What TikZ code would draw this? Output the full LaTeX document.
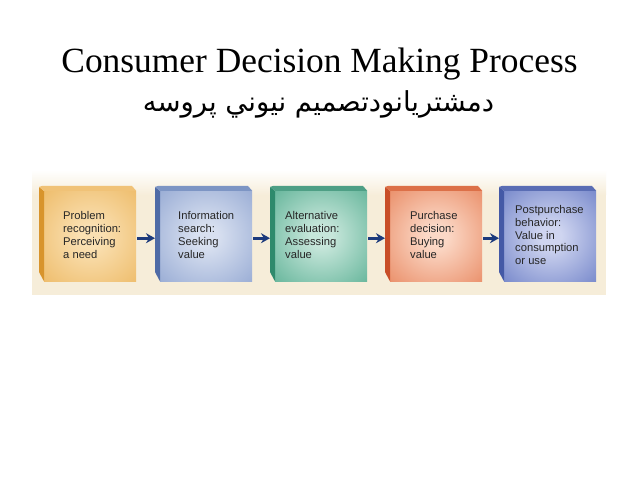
\documentclass[tikz,border=0pt]{standalone}
\usepackage{fontspec}
\setmainfont{Liberation Serif}
\newfontfamily\boxfont{Liberation Sans}
\newfontfamily\arabicfont[Script=Arabic]{DejaVu Sans}
\TeXXeTstate=1
\usetikzlibrary{arrows.meta}
\definecolor{band}{HTML}{F6EDD9}
\definecolor{navy}{HTML}{1C3A7C}
% box colours: inner, outer, side, top
\definecolor{oI}{HTML}{FAE0B2}\definecolor{oO}{HTML}{EBB45A}\definecolor{oS}{HTML}{D8942C}\definecolor{oT}{HTML}{F0C277}
\definecolor{bI}{HTML}{D8E0F0}\definecolor{bO}{HTML}{8AA0CE}\definecolor{bS}{HTML}{4F6BA6}\definecolor{bT}{HTML}{7D95C4}
\definecolor{gI}{HTML}{C6E6DA}\definecolor{gO}{HTML}{4FAA8C}\definecolor{gS}{HTML}{2E8A6C}\definecolor{gT}{HTML}{4E9F85}
\definecolor{rI}{HTML}{FBD8C6}\definecolor{rO}{HTML}{E67E54}\definecolor{rS}{HTML}{C84E28}\definecolor{rT}{HTML}{DC7048}
\definecolor{vI}{HTML}{CFD5F0}\definecolor{vO}{HTML}{6276C2}\definecolor{vS}{HTML}{4459A6}\definecolor{vT}{HTML}{5A6DB4}
\pgfdeclareradialshading{shO}{\pgfpointorigin}{color(0bp)=(oI); color(6bp)=(oI); color(44bp)=(oO); color(72bp)=(oO)}
\pgfdeclareradialshading{shB}{\pgfpointorigin}{color(0bp)=(bI); color(6bp)=(bI); color(44bp)=(bO); color(72bp)=(bO)}
\pgfdeclareradialshading{shG}{\pgfpointorigin}{color(0bp)=(gI); color(6bp)=(gI); color(44bp)=(gO); color(72bp)=(gO)}
\pgfdeclareradialshading{shR}{\pgfpointorigin}{color(0bp)=(rI); color(6bp)=(rI); color(44bp)=(rO); color(72bp)=(rO)}
\pgfdeclareradialshading{shV}{\pgfpointorigin}{color(0bp)=(vI); color(6bp)=(vI); color(44bp)=(vO); color(72bp)=(vO)}
\tikzset{
  front/.style={rectangle, minimum width=92pt, minimum height=90pt, inner sep=0pt, anchor=north west},
  boxtext/.style={anchor=west, align=left, inner sep=0pt, font=\boxfont\fontsize{11.2pt}{12.7pt}\selectfont, text=black!85},
  flow/.style={navy, line width=2.8pt, -{Stealth[length=9pt,width=10pt]}},
}
\newcommand{\mybox}[7]{% name, x, shading, side, top, textx, text
  \node[front, shade, shading=#3] (#1) at (#2+5,191) {};
  \fill[#4] (#1.north west) -- ++(-5,-4) -- ++(0,85) -- (#1.south west) -- cycle;
  \fill[#5] (#1.north west) -- ++(-5,-4) -- ++(3,-1) -- ++(90,0) -- (#1.north east) -- cycle;
  \node[boxtext] (t#1) at (#6,235) {#7};
}
\begin{document}
\begin{tikzpicture}[x=1pt,y=-1pt]
\useasboundingbox (0,0) rectangle (638,478);
\fill[white] (0,0) rectangle (638,478);
% band
\fill[band] (32,194) rectangle (606,295);
\shade[top color=white, bottom color=band] (32,170) rectangle (606,195);
% title
\node[font=\fontsize{35.4pt}{40pt}\selectfont, anchor=base] (title) at (319.5,73) {Consumer Decision Making Process};
\node[font=\arabicfont\fontsize{27.5pt}{32pt}\selectfont, anchor=base] (sub) at (318.5,112) {\beginR دمشتريانودتصميم نيوني پروسه\endR};
% boxes
\mybox{b1}{39}{shO}{oS}{oT}{63}{Problem\\recognition:\\Perceiving\\a need}
\mybox{b2}{155}{shB}{bS}{bT}{178}{Information\\search:\\Seeking\\value}
\mybox{b3}{270}{shG}{gS}{gT}{285}{Alternative\\evaluation:\\Assessing\\value}
\mybox{b4}{385}{shR}{rS}{rT}{410}{Purchase\\decision:\\Buying\\value}
\mybox{b5}{499}{shV}{vS}{vT}{515}{Postpurchase\\behavior:\\Value in\\consumption\\or use}
% arrows
\draw[flow] ([xshift=1pt,yshift=-2pt]b1.east) -- ([xshift=-5pt,yshift=-2pt]b2.west);
\draw[flow] ([xshift=1pt,yshift=-2pt]b2.east) -- ([xshift=-5pt,yshift=-2pt]b3.west);
\draw[flow] ([xshift=1pt,yshift=-2pt]b3.east) -- ([xshift=-5pt,yshift=-2pt]b4.west);
\draw[flow] ([xshift=1pt,yshift=-2pt]b4.east) -- ([xshift=-5pt,yshift=-2pt]b5.west);
\end{tikzpicture}
\end{document}
